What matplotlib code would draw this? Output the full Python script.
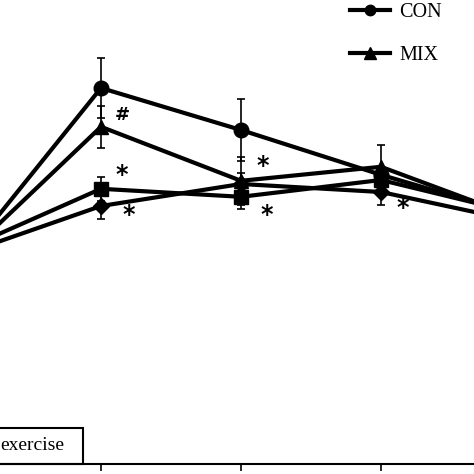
import matplotlib.pyplot as plt
from matplotlib.lines import Line2D
from matplotlib.patches import Rectangle

plt.rcParams['font.family'] = ['Liberation Serif', 'DejaVu Serif']

# time points (index), only the middle part of the original is visible
x = [0, 1, 2, 3, 4]

con = [50.5, 94.0, 83.5, 72.3, 62.0]
con_err = [0, 7.5, 7.7, 1.5, 0]
mix = [51.0, 84.3, 70.8, 74.3, 61.3]
mix_err = [0, 5.3, 6.0, 5.5, 0]
sq = [53.3, 68.8, 66.8, 71.0, 62.5]
sq_err = [0, 3.0, 3.0, 2.5, 0]
dia = [52.3, 64.5, 70.0, 68.0, 60.5]
dia_err = [0, 3.3, 2.8, 3.3, 0]

# significance marks: (x, y, text)
marks = [(1.107, 72.3, '*'), (1.15, 62.3, '*'), (1.10, 87.3, '#'),
         (2.114, 74.5, '*'), (2.136, 62.3, '*'), (3.114, 64.0, '*')]

fig = plt.figure(figsize=(4.74, 4.74), dpi=100)
ax = fig.add_axes([0, 10 / 474, 1, 464 / 474])

series = [(con, con_err, 'o', 10.5), (mix, mix_err, '^', 10.5),
          (sq, sq_err, 's', 10), (dia, dia_err, 'D', 8.5)]
for vals, err, mk, ms in series:
    ax.errorbar(x, vals, yerr=err, color='black', ecolor='black',
                elinewidth=1.2, capsize=3, capthick=1.2,
                lw=3, marker=mk, markersize=ms, zorder=3)

for mx, my, t in marks:
    ax.text(mx, my, t, fontsize=17 if t == '*' else 13, fontweight='bold',
            family='DejaVu Sans', ha='left', va='center', color='black')

ax.set_xlim(1 - 101 / 140, 1 + 373 / 140)
ax.set_ylim(0, 116)
ax.set_xticks([1, 2, 3])
ax.set_xticklabels([])
ax.set_yticks([])
for s in ['top', 'right', 'left']:
    ax.spines[s].set_visible(False)
ax.spines['bottom'].set_linewidth(1.5)
ax.tick_params(axis='x', direction='out', length=5, width=1.2)

# phase box at the bottom left
ax.add_patch(Rectangle((-0.02, 10 / 474), 83 / 474 + 0.02, 36 / 474,
                       transform=fig.transFigure, fill=False,
                       lw=1.5, edgecolor='black', clip_on=False))
fig.text(64 / 474, 1 - 446 / 474, 'exercise', ha='right', va='center',
         fontsize=14)

handles = [Line2D([], [], color='black', lw=3, marker='o', markersize=7.5),
           Line2D([], [], color='black', lw=3, marker='^', markersize=8)]
ax.legend(handles, ['CON', 'MIX'], loc='upper left',
          bbox_to_anchor=(350 / 474, 1 - 3 / 474),
          bbox_transform=fig.transFigure, frameon=False, fontsize=14.5,
          handlelength=2.0, handletextpad=0.45, labelspacing=1.2,
          borderpad=0, borderaxespad=0)

plt.savefig('out.png', dpi=100)
